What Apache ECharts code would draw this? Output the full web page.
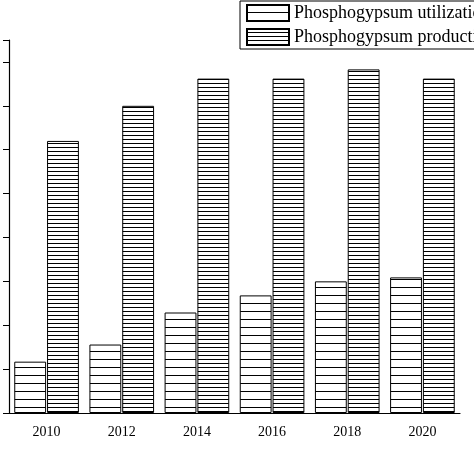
<!DOCTYPE html>
<html><head><meta charset="utf-8">
<script src="https://cdn.jsdelivr.net/npm/echarts@6/dist/echarts.min.js"></script>
<style>html,body{margin:0;padding:0;background:#fff}#c{width:474px;height:474px}</style>
</head><body><div id="c"></div>
<script>
// values (unit of the hidden y labels unknown, one tick = 10)
const years = ['2010', '2012', '2014', '2016', '2018', '2020'];
const utilization = [11.7, 15.6, 22.9, 26.8, 30.0, 30.9];
const production = [62.0, 70.0, 76.2, 76.2, 78.3, 76.2];

// horizontal hatch fill
function hatch(gap) {
    const cv = document.createElement('canvas');
    cv.width = 8; cv.height = gap;
    const ctx = cv.getContext('2d');
    ctx.fillStyle = '#fff'; ctx.fillRect(0, 0, 8, gap);
    ctx.fillStyle = '#000'; ctx.fillRect(0, gap - 1, 8, 1);
    return { image: cv, repeat: 'repeat' };
}

const font = 'Liberation Serif';
const chart = echarts.init(document.getElementById('c'));
chart.setOption({
    animation: false,
    textStyle: { fontFamily: font, color: '#000' },
    legend: {
        left: 240, top: 1, orient: 'vertical', itemGap: 6, icon: 'rect',
        itemWidth: 42, itemHeight: 16,
        borderColor: '#000', borderWidth: 1, padding: [3, 6, 3, 6],
        textStyle: { fontFamily: font, fontSize: 18, color: '#000' },
        data: ['Phosphogypsum utilization', 'Phosphogypsum production']
    },
    grid: { left: 9, right: 14, top: 40, bottom: 61 },
    xAxis: {
        type: 'category', data: years,
        axisLine: { lineStyle: { color: '#000', width: 1.2 } },
        axisTick: { alignWithLabel: true, inside: false, lineStyle: { color: '#000' } },
        axisLabel: { fontFamily: font, fontSize: 14, color: '#000', margin: 12 }
    },
    yAxis: {
        type: 'value', min: 0, max: 85, interval: 10,
        axisLine: { show: true, lineStyle: { color: '#000', width: 1.2 } },
        axisTick: { show: true, length: 6, lineStyle: { color: '#000' } },
        axisLabel: { show: false },
        splitLine: { show: false }
    },
    series: [
        {
            name: 'Phosphogypsum utilization', type: 'bar', data: utilization,
            barGap: '3%', barCategoryGap: '14%',
            itemStyle: { color: hatch(8), borderColor: '#000', borderWidth: 1 }
        },
        {
            name: 'Phosphogypsum production', type: 'bar', data: production,
            itemStyle: { color: hatch(4), borderColor: '#000', borderWidth: 1 }
        }
    ]
});
</script>
</body></html>
